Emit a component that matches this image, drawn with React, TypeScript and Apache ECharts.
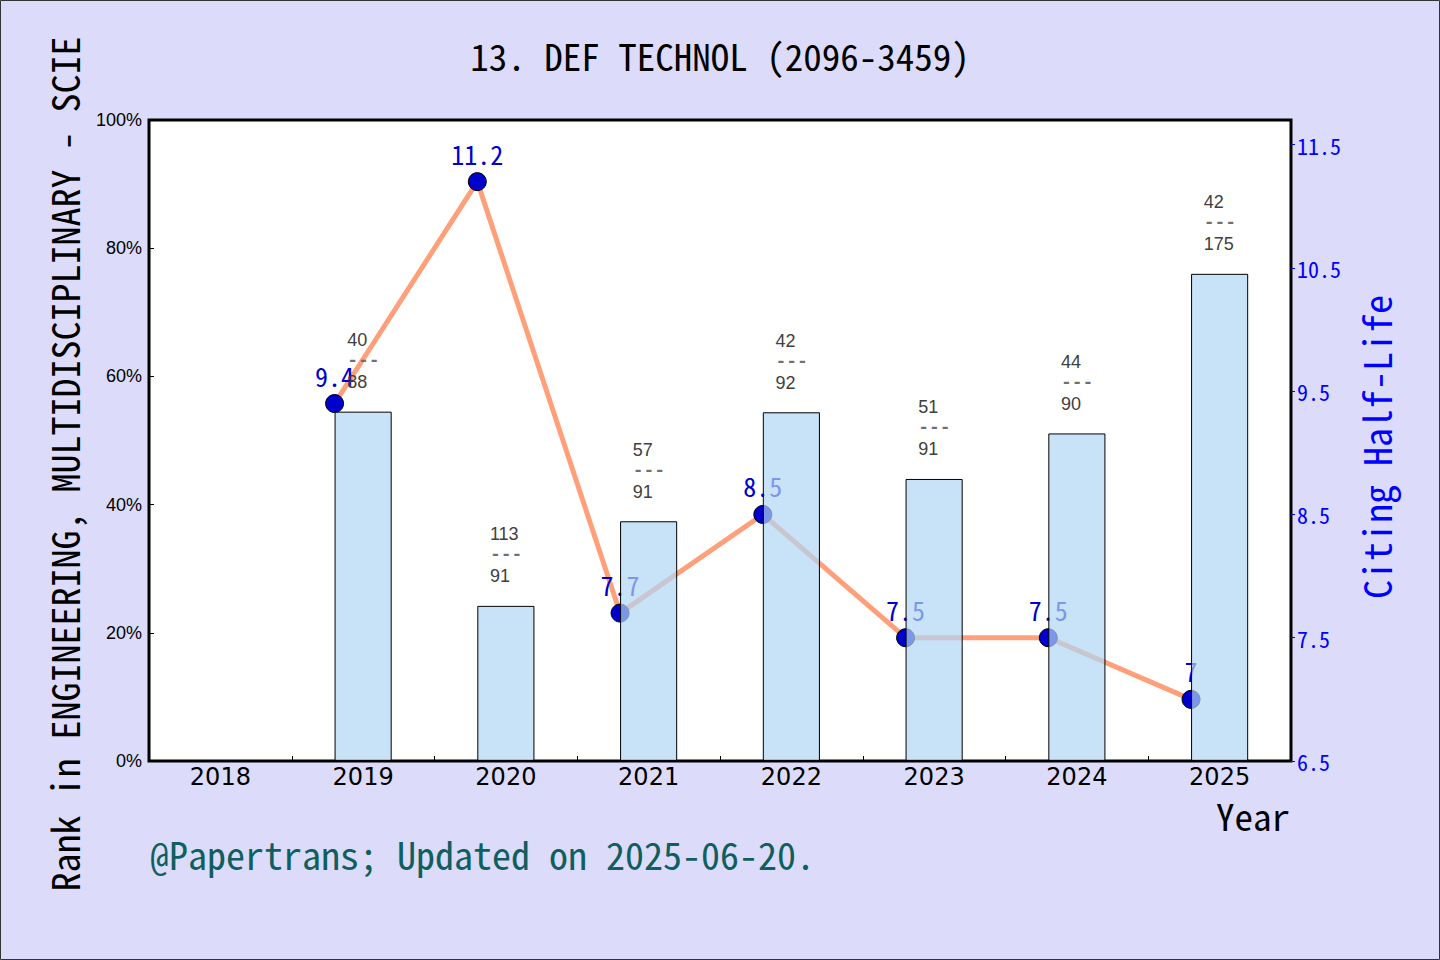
import React, { useEffect, useRef } from "react";
import * as echarts from "echarts";

const years = ["2018", "2019", "2020", "2021", "2022", "2023", "2024", "2025"];
const rankPct = [null, 54.5, 24.2, 37.4, 54.4, 44.0, 51.1, 76.0];
const ranks = [null, 40, 113, 57, 42, 51, 44, 42];
const totals = [null, 88, 91, 91, 92, 91, 90, 175];
const halfLife = [null, 9.4, 11.2, 7.7, 8.5, 7.5, 7.5, 7];
const rightTicks = [6.5, 7.5, 8.5, 9.5, 10.5, 11.5];

const titleText = "13. DEF TECHNOL (2096-3459)";
const leftName = "Rank in ENGINEERING, MULTIDISCIPLINARY - SCIE";
const rightName = "Citing Half-Life";
const xName = "Year";
const footer = "@Papertrans; Updated on 2025-06-20.";

const MONO = '"Noto Sans Mono CJK SC", "Noto Sans CJK SC", "DejaVu Sans Mono", monospace';
const SANS = '"Liberation Sans", Arial, sans-serif';

export default function App() {
  const ref = useRef<HTMLDivElement>(null);
  useEffect(() => {
    if (!ref.current) return;
    const chart = echarts.init(ref.current, null, { renderer: "svg" });
    const lineData = halfLife
      .map((v, i) => (v == null ? null : [i + 0.3, v]))
      .filter((d) => d !== null);
    chart.setOption({
      animation: false,
      backgroundColor: "#dcdcfa",
      grid: {
        left: 149,
        top: 120,
        width: 1142,
        height: 641,
        show: true,
        backgroundColor: "#ffffff",
        borderColor: "#000000",
        borderWidth: 3,
        z: 0,
      },
      xAxis: [
        {
          type: "category",
          data: years,
          gridIndex: 0,
          axisLine: { show: false },
          axisTick: { show: true, inside: true, length: 5, lineStyle: { color: "#000", width: 1 } },
          axisLabel: { fontSize: 24, color: "#000", fontFamily: '"DejaVu Sans", sans-serif', margin: 4 },
          splitLine: { show: false },
        },
        {
          type: "value",
          gridIndex: 0,
          min: 0,
          max: 8,
          show: false,
        },
      ],
      yAxis: [
        {
          type: "value",
          min: 0,
          max: 100,
          interval: 20,
          axisLine: { show: false },
          axisTick: { show: true, inside: true, length: 5, lineStyle: { color: "#000" } },
          axisLabel: { formatter: "{value}%", fontSize: 18, color: "#000", fontFamily: SANS, margin: 7 },
          splitLine: { show: false },
        },
        {
          type: "value",
          position: "right",
          min: 6.5,
          max: 11.7,
          axisLine: { show: false },
          axisTick: { show: true, inside: false, length: 4, lineStyle: { color: "#0000ff" }, customValues: rightTicks },
          axisLabel: {
            fontSize: 22,
            color: "#0000ff",
            fontFamily: MONO,
            margin: 6,
            customValues: rightTicks,
            formatter: (v: number) => v.toFixed(1),
          },
          splitLine: { show: false },
        },
      ],
      series: [
        {
          type: "line",
          xAxisIndex: 1,
          yAxisIndex: 1,
          data: lineData,
          z: 2,
          lineStyle: { color: "#ffa07a", width: 5 },
          symbol: "circle",
          symbolSize: 18,
          itemStyle: { color: "#0000cd", borderColor: "#000", borderWidth: 1 },
          label: {
            show: true,
            position: "top",
            distance: 6,
            color: "#0000cd",
            fontSize: 26,
            fontFamily: MONO,
            formatter: (p: any) => String(p.value[1]),
          },
        },
        {
          type: "bar",
          xAxisIndex: 0,
          yAxisIndex: 0,
          data: rankPct,
          barWidth: "40%",
          z: 3,
          itemStyle: { color: "rgba(176,214,245,0.7)", borderColor: "#000", borderWidth: 1 },
          label: {
            show: true,
            position: "top",
            distance: 19,
            formatter: (p: any) =>
              `{n|${ranks[p.dataIndex]}}\n{d|---}\n{n|${totals[p.dataIndex]}}`,
            rich: {
              n: { fontSize: 18, color: "#404040", fontFamily: SANS, width: 32, align: "left", lineHeight: 21 },
              d: { fontSize: 18, color: "#707070", fontFamily: '"Liberation Mono", monospace', fontWeight: "bold", width: 32, align: "left", lineHeight: 21 },
            },
          },
        },
      ],
      graphic: [
        {
          type: "rect",
          shape: { x: 0.5, y: 0.5, width: 1439, height: 959 },
          style: { fill: "none", stroke: "#333", lineWidth: 1 },
          silent: true,
        },
        {
          type: "text",
          x: 720,
          y: 55,
          style: { text: titleText, fontSize: 37, fontFamily: MONO, fill: "#000", align: "center", verticalAlign: "middle" },
        },
        {
          type: "text",
          x: 63,
          y: 464,
          rotation: Math.PI / 2,
          style: { text: leftName, fontSize: 38, fontFamily: MONO, fill: "#000", align: "center", verticalAlign: "middle" },
        },
        {
          type: "text",
          x: 1375,
          y: 447,
          rotation: Math.PI / 2,
          style: { text: rightName, fontSize: 38, fontFamily: MONO, fill: "#0000ff", align: "center", verticalAlign: "middle" },
        },
        {
          type: "text",
          x: 1290,
          y: 815,
          style: { text: xName, fontSize: 37, fontFamily: MONO, fill: "#000", align: "right", verticalAlign: "middle" },
        },
        {
          type: "text",
          x: 150,
          y: 853,
          style: { text: footer, fontSize: 38, fontFamily: MONO, fill: "#0f5f5f", align: "left", verticalAlign: "middle" },
        },
      ],
    });
    return () => chart.dispose();
  }, []);
  return (
    <div
      ref={ref}
      style={{ position: "fixed", left: 0, top: 0, width: 1440, height: 960 }}
    />
  );
}
